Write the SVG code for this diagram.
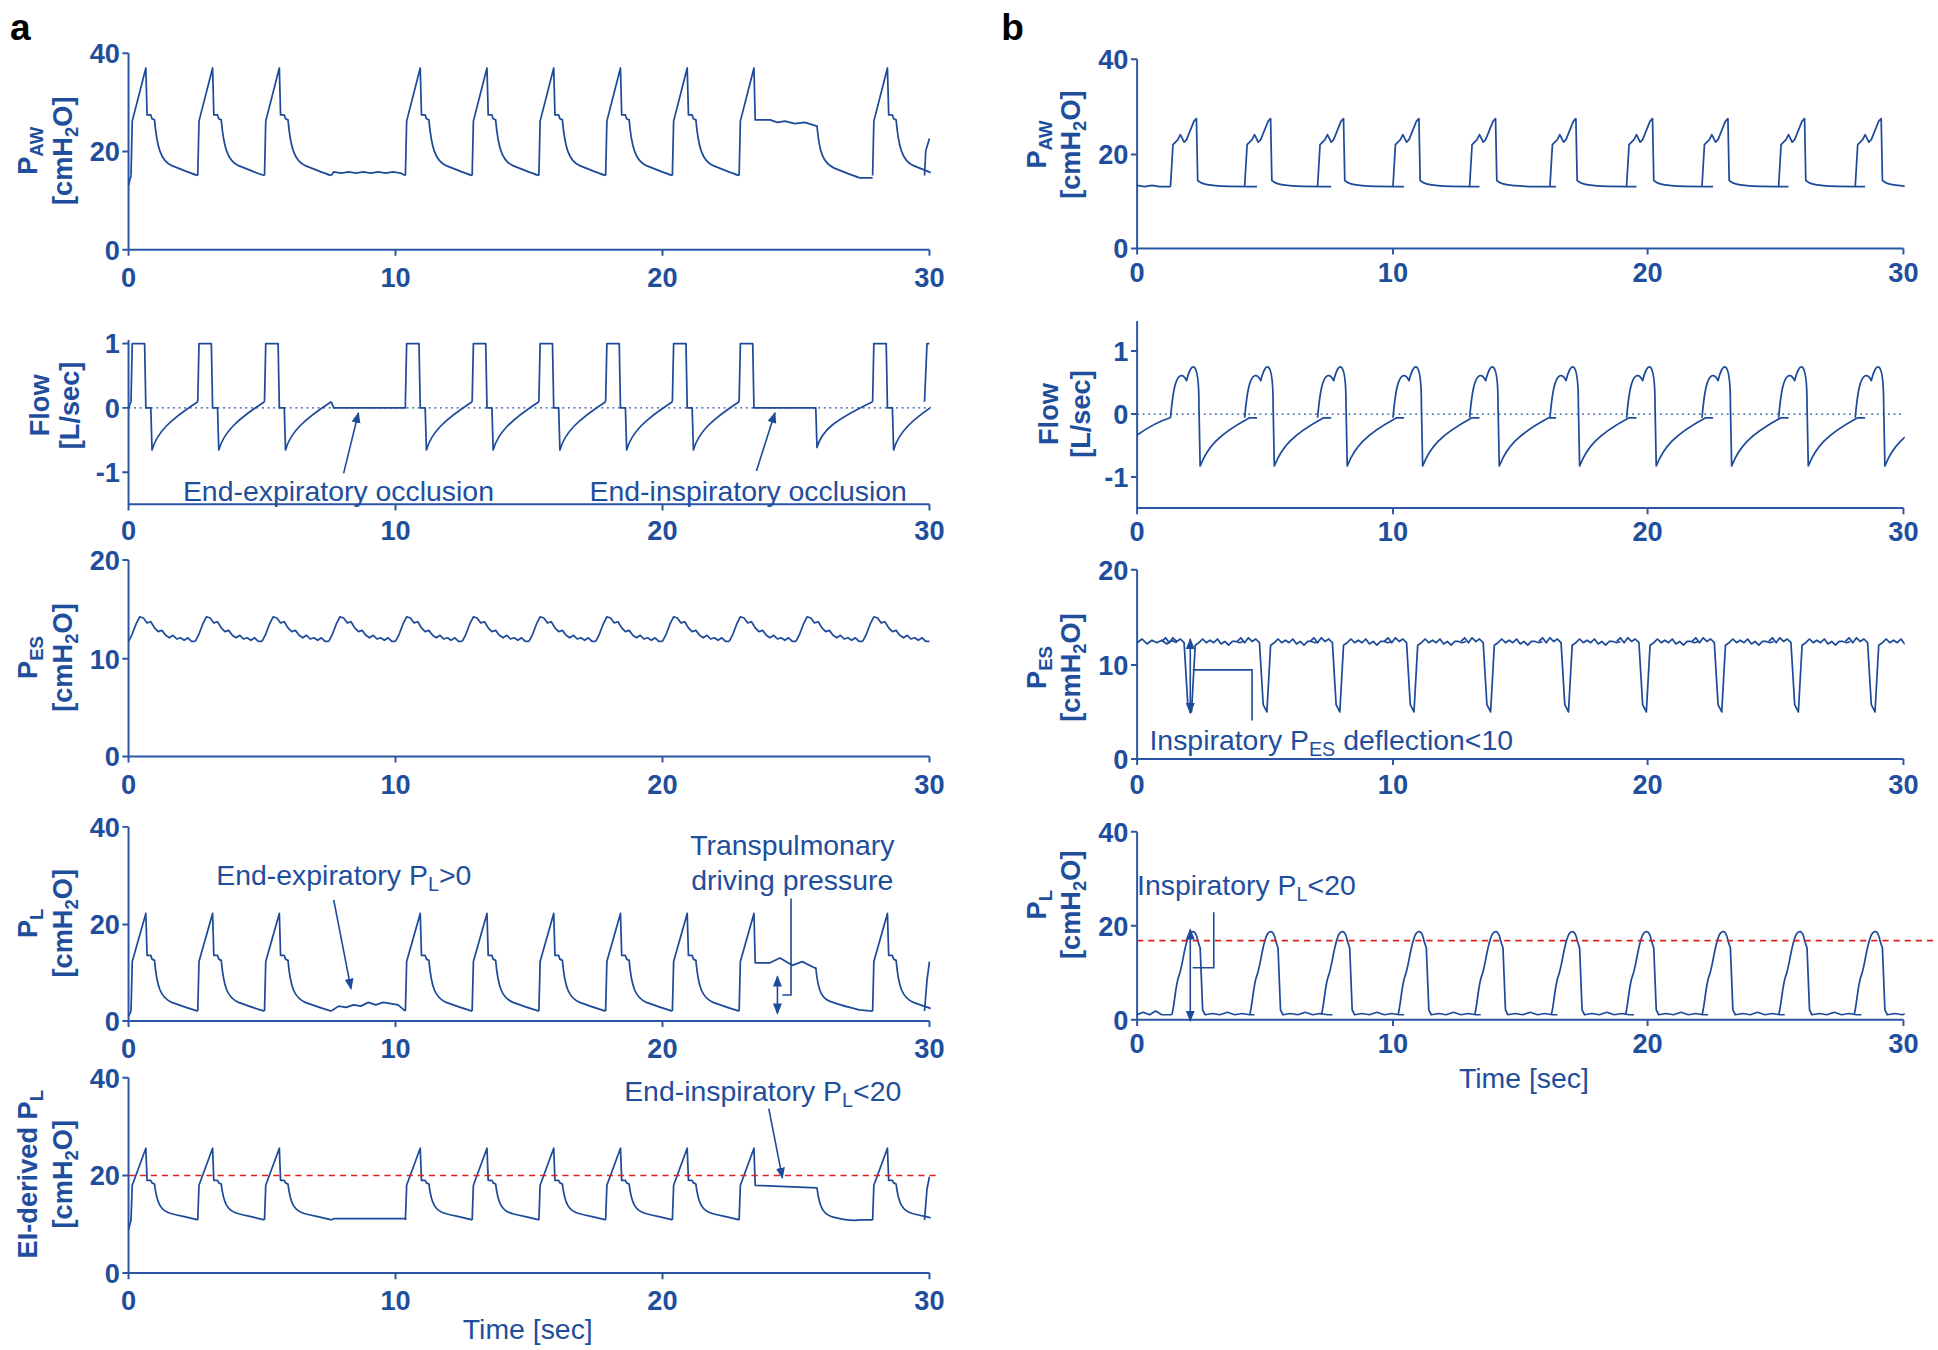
<svg xmlns="http://www.w3.org/2000/svg" xmlns:xlink="http://www.w3.org/1999/xlink" width="1938" height="1350" viewBox="0 0 1938 1350">
<style>
.ax{fill:none;stroke:#2b56a5;stroke-width:1.6}
.tr{fill:none;stroke:#1e4a9a;stroke-width:1.4;stroke-linejoin:round}
.tk{font-family:"Liberation Sans",Arial,sans-serif;font-weight:bold;font-size:22px;fill:#1f4e9c}
.yl{font-family:"Liberation Sans",Arial,sans-serif;font-weight:bold;font-size:22px;fill:#1f4e9c;text-anchor:middle}
.an{font-family:"Liberation Sans",Arial,sans-serif;font-size:23px;fill:#1f4e9c}
.ln{fill:none;stroke:#1e4a9a;stroke-width:1.3}
.red{fill:none;stroke:#e0201c;stroke-width:1.3;stroke-dasharray:5,4}
.dot{fill:none;stroke:#1e4a9a;stroke-width:1;stroke-dasharray:1.5,3}
</style>
<defs>
<marker id="ah" viewBox="0 0 10 10" refX="9" refY="5" markerWidth="7" markerHeight="7" orient="auto-start-reverse"><path d="M0,1 L10,5 L0,9 Z" fill="#1e4a9a"/></marker>
<clipPath id="ca"><rect x="104" y="0" width="649" height="1100"/></clipPath>
<clipPath id="cb"><rect x="920" y="0" width="621" height="1100"/></clipPath>
<path id="pa" d="M0,0 l1,-44 l11,-43 l1,38 l3,0 l1,3 l2,1 c2,22 5,33 14,37 c8,3 14,6 21,8"/>
<path id="fa" d="M0,-5 l1,-47 l10,0 l1,52 l4,0 l1,34 c4,-14 14,-24 37,-39"/>
<path id="ea" d="M0,0 l3,-6 l3,-8 l3,-6 l3,1 l3,4 l3,-1 l3,5 l3,3 l3,-1 l3,4 l3,2 l3,-2 l3,3 l3,-1 l3,2 l3,-2 l3,3 l3,0"/>
<path id="la" d="M0,0 l1,-40 l11,-39 l1,34 l3,0 l1,3 l2,1 c2,22 5,30 14,34 c8,3 14,5 21,7"/>
<path id="da" d="M0,0 l1,-28 l11,-30 l1,26 l3,0 l1,2 l2,1 c2,16 5,22 14,24 c8,2 14,3 21,5"/>
<path id="pb" d="M0,0 l2,-34 l4,-4 l2,-4 l3,6 l2,-2 l6,-15 l2,-2 l1,50 l3,2 c5,2 12,3 39,3 l6,0"/>
<path id="fb" d="M0,0 c2,-22 4,-32 8,-34 c3,-1 4,2 5,4 c2,-8 4,-12 6,-11 c3,2 4,15 4,30 l1,50 c6,-15 14,-25 40,-39 l6,0"/>
<path id="eb" d="M0,0 l3,-3 l3,4 l3,-4 l3,3 l3,-2 l3,3 l3,50 l3,6 l3,-54 l3,-2 l3,-3 l3,3 l3,-2 l3,2 l3,-3 l3,4 l3,-2 l3,3 l3,-3 l3,0 l3,1 l3,-1"/>
<path id="lb" d="M0,0 c2,-5 3,-25 6,-32 c3,-8 5,-30 9,-34 c3,-3 5,0 6,6 l2,6 l2,50 l2,4 l6,-1 l6,1 l6,-2 l6,2 l6,-1 l6,1 l4,0"/>
</defs>
<g transform="scale(1.236)">
<text x="8" y="32" font-family="Liberation Sans,Arial,sans-serif" font-weight="bold" font-size="30">a</text>
<text x="810" y="32" font-family="Liberation Sans,Arial,sans-serif" font-weight="bold" font-size="30">b</text>

<g id="axes-a">
<path class="ax" d="M104,43 V202 H752 M99,43 H104 M99,122.5 H104 M99,202 H104 M104,202 v5 M320,202 v5 M536,202 v5 M752,202 v5"/>
<path class="ax" d="M104,275 V408 H752 M99,278 H104 M99,330 H104 M99,382 H104 M104,408 v5 M320,408 v5 M536,408 v5 M752,408 v5"/>
<path class="ax" d="M104,453 V612 H752 M99,453 H104 M99,533 H104 M99,612 H104 M104,612 v5 M320,612 v5 M536,612 v5 M752,612 v5"/>
<path class="ax" d="M104,669 V826 H752 M99,669 H104 M99,748 H104 M99,826 H104 M104,826 v5 M320,826 v5 M536,826 v5 M752,826 v5"/>
<path class="ax" d="M104,872 V1030 H752 M99,872 H104 M99,951 H104 M99,1030 H104 M104,1030 v5 M320,1030 v5 M536,1030 v5 M752,1030 v5"/>
<g class="tk" text-anchor="end">
<text x="97" y="51">40</text><text x="97" y="130">20</text><text x="97" y="210">0</text>
<text x="97" y="286">1</text><text x="97" y="338">0</text><text x="97" y="390">-1</text>
<text x="97" y="461">20</text><text x="97" y="541">10</text><text x="97" y="620">0</text>
<text x="97" y="677">40</text><text x="97" y="756">20</text><text x="97" y="834">0</text>
<text x="97" y="880">40</text><text x="97" y="959">20</text><text x="97" y="1038">0</text>
</g>
<g class="tk" text-anchor="middle">
<text x="104" y="232">0</text><text x="320" y="232">10</text><text x="536" y="232">20</text><text x="752" y="232">30</text>
<text x="104" y="437">0</text><text x="320" y="437">10</text><text x="536" y="437">20</text><text x="752" y="437">30</text>
<text x="104" y="642">0</text><text x="320" y="642">10</text><text x="536" y="642">20</text><text x="752" y="642">30</text>
<text x="104" y="856">0</text><text x="320" y="856">10</text><text x="536" y="856">20</text><text x="752" y="856">30</text>
<text x="104" y="1060">0</text><text x="320" y="1060">10</text><text x="536" y="1060">20</text><text x="752" y="1060">30</text>
</g>
<text class="an" x="427" y="1083" text-anchor="middle">Time [sec]</text>
<g class="yl">
<text transform="translate(30,122) rotate(-90)">P<tspan font-size="15" dy="5">AW</tspan></text>
<text transform="translate(58,122) rotate(-90)">[cmH<tspan font-size="15" dy="5">2</tspan><tspan dy="-5">O]</tspan></text>
<text transform="translate(40,328) rotate(-90)">Flow</text>
<text transform="translate(64,328) rotate(-90)">[L/sec]</text>
<text transform="translate(30,532) rotate(-90)">P<tspan font-size="15" dy="5">ES</tspan></text>
<text transform="translate(58,532) rotate(-90)">[cmH<tspan font-size="15" dy="5">2</tspan><tspan dy="-5">O]</tspan></text>
<text transform="translate(30,747) rotate(-90)">P<tspan font-size="15" dy="5">L</tspan></text>
<text transform="translate(58,747) rotate(-90)">[cmH<tspan font-size="15" dy="5">2</tspan><tspan dy="-5">O]</tspan></text>
<text transform="translate(30,950) rotate(-90)">EI-derived P<tspan font-size="15" dy="5">L</tspan></text>
<text transform="translate(58,950) rotate(-90)">[cmH<tspan font-size="15" dy="5">2</tspan><tspan dy="-5">O]</tspan></text>
</g>
</g>

<g id="traces-a" clip-path="url(#ca)" class="tr">
<path d="M104,150 L106,142"/>
<use href="#pa" x="106" y="142"/><use href="#pa" x="160" y="142"/><use href="#pa" x="214" y="142"/>
<path d="M268,142 l2,-3 l6,1 l6,-1 l6,1 l6,-1 l6,1 l6,-1 l6,1 l6,-1 l6,1 l4,2"/>
<use href="#pa" x="328" y="142"/><use href="#pa" x="382" y="142"/><use href="#pa" x="436" y="142"/><use href="#pa" x="490" y="142"/><use href="#pa" x="544" y="142"/>
<path d="M598,142 l1,-44 l11,-43 l1,42 l12,0 l6,2 l6,-1 l8,2 l8,-1 l10,3 c2,22 5,30 14,34 c8,3 14,6 21,8 l10,0"/>
<use href="#pa" x="706" y="142"/>
<path d="M748,142 l1,-20 l3,-10"/>

<path class="dot" d="M104,330 H752"/>
<path d="M104,330 L106,325"/>
<use href="#fa" x="106" y="330"/><use href="#fa" x="160" y="330"/><use href="#fa" x="214" y="330"/>
<path d="M268,325 L270,330 H328 L328,325"/>
<use href="#fa" x="328" y="330"/><use href="#fa" x="382" y="330"/><use href="#fa" x="436" y="330"/><use href="#fa" x="490" y="330"/><use href="#fa" x="544" y="330"/>
<path d="M598,325 l1,-47 l10,0 l1,52 l50,0 l1,32 c4,-14 14,-22 45,-37"/>
<use href="#fa" x="706" y="330"/>
<path d="M748,325 l2,-47 l2,0"/>

<use href="#ea" x="104" y="519"/><use href="#ea" x="158" y="519"/><use href="#ea" x="212" y="519"/><use href="#ea" x="266" y="519"/><use href="#ea" x="320" y="519"/><use href="#ea" x="374" y="519"/><use href="#ea" x="428" y="519"/><use href="#ea" x="482" y="519"/><use href="#ea" x="536" y="519"/><use href="#ea" x="590" y="519"/><use href="#ea" x="644" y="519"/><use href="#ea" x="698" y="519"/>

<path d="M104,822 L106,818"/>
<use href="#la" x="106" y="818"/><use href="#la" x="160" y="818"/><use href="#la" x="214" y="818"/>
<path d="M268,818 l6,-4 l6,1 l6,-2 l6,1 l6,-3 l6,2 l6,-2 l6,1 l6,1 l6,5"/>
<use href="#la" x="328" y="818"/><use href="#la" x="382" y="818"/><use href="#la" x="436" y="818"/><use href="#la" x="490" y="818"/><use href="#la" x="544" y="818"/>
<path d="M598,818 l1,-40 l11,-39 l1,40 l12,0 l8,-4 l10,6 l8,-3 l10,5 l1,0 c2,20 5,26 14,28 c8,3 14,4 21,6 l11,1"/>
<use href="#la" x="706" y="818"/>
<path d="M748,818 l2,-25 l2,-15"/>

<path d="M104,995 L106,987"/>
<use href="#da" x="106" y="987"/><use href="#da" x="160" y="987"/><use href="#da" x="214" y="987"/>
<path d="M268,987 l2,-1 H328 l0,1"/>
<use href="#da" x="328" y="987"/><use href="#da" x="382" y="987"/><use href="#da" x="436" y="987"/><use href="#da" x="490" y="987"/><use href="#da" x="544" y="987"/>
<path d="M598,987 l1,-28 l11,-30 l1,30 l50,2 c2,16 5,22 14,24 c8,2 14,3 21,2 l10,0"/>
<use href="#da" x="706" y="987"/>
<path d="M748,987 l2,-25 l2,-10"/>
</g>
<path class="red" d="M104,951 H760"/>

<g id="annot-a">
<text class="an" x="148" y="405">End-expiratory occlusion</text>
<text class="an" x="477" y="405">End-inspiratory occlusion</text>
<path class="ln" d="M278,383 L290,334" marker-end="url(#ah)"/>
<path class="ln" d="M612,381 L627,334" marker-end="url(#ah)"/>
<text class="an" x="175" y="716">End-expiratory P<tspan font-size="16" dy="5">L</tspan><tspan dy="-5">&gt;0</tspan></text>
<path class="ln" d="M270,728 L284,800" marker-end="url(#ah)"/>
<text class="an" x="641" y="692" text-anchor="middle">Transpulmonary</text>
<text class="an" x="641" y="720" text-anchor="middle">driving pressure</text>
<path class="ln" d="M640,727 V805 H633"/>
<path class="ln" d="M629,790 V820" marker-start="url(#ah)" marker-end="url(#ah)"/>
<text class="an" x="505" y="891">End-inspiratory P<tspan font-size="16" dy="5">L</tspan><tspan dy="-5">&lt;20</tspan></text>
<path class="ln" d="M622,897 L633,953" marker-end="url(#ah)"/>
</g>

<g id="axes-b">
<path class="ax" d="M920,48 V201 H1540 M915,48 H920 M915,125 H920 M915,201 H920 M920,201 v5 M1127,201 v5 M1333,201 v5 M1540,201 v5"/>
<path class="ax" d="M920,260 V411 H1540 M915,284 H920 M915,335 H920 M915,386 H920 M920,411 v5 M1127,411 v5 M1333,411 v5 M1540,411 v5"/>
<path class="ax" d="M920,461 V614 H1540 M915,461 H920 M915,538 H920 M915,614 H920 M920,614 v5 M1127,614 v5 M1333,614 v5 M1540,614 v5"/>
<path class="ax" d="M920,673 V825 H1540 M915,673 H920 M915,749 H920 M915,825 H920 M920,825 v5 M1127,825 v5 M1333,825 v5 M1540,825 v5"/>
<g class="tk" text-anchor="end">
<text x="913" y="56">40</text><text x="913" y="133">20</text><text x="913" y="209">0</text>
<text x="913" y="292">1</text><text x="913" y="343">0</text><text x="913" y="394">-1</text>
<text x="913" y="469">20</text><text x="913" y="546">10</text><text x="913" y="622">0</text>
<text x="913" y="681">40</text><text x="913" y="757">20</text><text x="913" y="833">0</text>
</g>
<g class="tk" text-anchor="middle">
<text x="920" y="228">0</text><text x="1127" y="228">10</text><text x="1333" y="228">20</text><text x="1540" y="228">30</text>
<text x="920" y="438">0</text><text x="1127" y="438">10</text><text x="1333" y="438">20</text><text x="1540" y="438">30</text>
<text x="920" y="642">0</text><text x="1127" y="642">10</text><text x="1333" y="642">20</text><text x="1540" y="642">30</text>
<text x="920" y="852">0</text><text x="1127" y="852">10</text><text x="1333" y="852">20</text><text x="1540" y="852">30</text>
</g>
<text class="an" x="1233" y="880" text-anchor="middle">Time [sec]</text>
<g class="yl">
<text transform="translate(846,117) rotate(-90)">P<tspan font-size="15" dy="5">AW</tspan></text>
<text transform="translate(874,117) rotate(-90)">[cmH<tspan font-size="15" dy="5">2</tspan><tspan dy="-5">O]</tspan></text>
<text transform="translate(856,335) rotate(-90)">Flow</text>
<text transform="translate(882,335) rotate(-90)">[L/sec]</text>
<text transform="translate(846,540) rotate(-90)">P<tspan font-size="15" dy="5">ES</tspan></text>
<text transform="translate(874,540) rotate(-90)">[cmH<tspan font-size="15" dy="5">2</tspan><tspan dy="-5">O]</tspan></text>
<text transform="translate(846,732) rotate(-90)">P<tspan font-size="15" dy="5">L</tspan></text>
<text transform="translate(874,732) rotate(-90)">[cmH<tspan font-size="15" dy="5">2</tspan><tspan dy="-5">O]</tspan></text>
</g>
</g>

<g id="traces-b" clip-path="url(#cb)" class="tr">
<path d="M920,150 l6,1 l6,-1 l6,1 l9,0"/>
<use href="#pb" x="947" y="151"/><use href="#pb" x="1007" y="151"/><use href="#pb" x="1066" y="151"/><use href="#pb" x="1127" y="151"/><use href="#pb" x="1189" y="151"/><use href="#pb" x="1254" y="151"/><use href="#pb" x="1316" y="151"/><use href="#pb" x="1377" y="151"/><use href="#pb" x="1439" y="151"/><use href="#pb" x="1501" y="151"/>

<path class="dot" d="M920,335 H1540"/>
<path d="M920,352 C930,345 940,340 947,338"/>
<use href="#fb" x="947" y="338"/><use href="#fb" x="1007" y="338"/><use href="#fb" x="1066" y="338"/><use href="#fb" x="1127" y="338"/><use href="#fb" x="1189" y="338"/><use href="#fb" x="1254" y="338"/><use href="#fb" x="1316" y="338"/><use href="#fb" x="1377" y="338"/><use href="#fb" x="1439" y="338"/><use href="#fb" x="1501" y="338"/>

<path d="M920,520 l4,-3 l4,4 l4,-3 l4,2 l4,-2 l4,3 l4,-3 l4,2"/>
<use href="#eb" x="940" y="519"/><use href="#eb" x="1001" y="519"/><use href="#eb" x="1060" y="519"/><use href="#eb" x="1120" y="519"/><use href="#eb" x="1182" y="519"/><use href="#eb" x="1245" y="519"/><use href="#eb" x="1308" y="519"/><use href="#eb" x="1369" y="519"/><use href="#eb" x="1431" y="519"/><use href="#eb" x="1493" y="519"/>

<path d="M920,821 l5,-2 l5,2 l5,-3 l5,3 l8,0"/>
<use href="#lb" x="948" y="821"/><use href="#lb" x="1011" y="821"/><use href="#lb" x="1069" y="821"/><use href="#lb" x="1131" y="821"/><use href="#lb" x="1193" y="821"/><use href="#lb" x="1255" y="821"/><use href="#lb" x="1315" y="821"/><use href="#lb" x="1377" y="821"/><use href="#lb" x="1439" y="821"/><use href="#lb" x="1500" y="821"/>
</g>
<path class="red" d="M920,761 H1568"/>

<g id="annot-b">
<text class="an" x="930" y="607">Inspiratory P<tspan font-size="16" dy="5">ES</tspan><tspan dy="-5"> deflection&lt;10</tspan></text>
<path class="ln" d="M963,517 V577" marker-start="url(#ah)" marker-end="url(#ah)"/>
<path class="ln" d="M965,542 H1013 V583"/>
<text class="an" x="920" y="724">Inspiratory P<tspan font-size="16" dy="5">L</tspan><tspan dy="-5">&lt;20</tspan></text>
<path class="ln" d="M963,752 V826" marker-start="url(#ah)" marker-end="url(#ah)"/>
<path class="ln" d="M965,783 H982 V738"/>
</g>
</g>
</svg>
